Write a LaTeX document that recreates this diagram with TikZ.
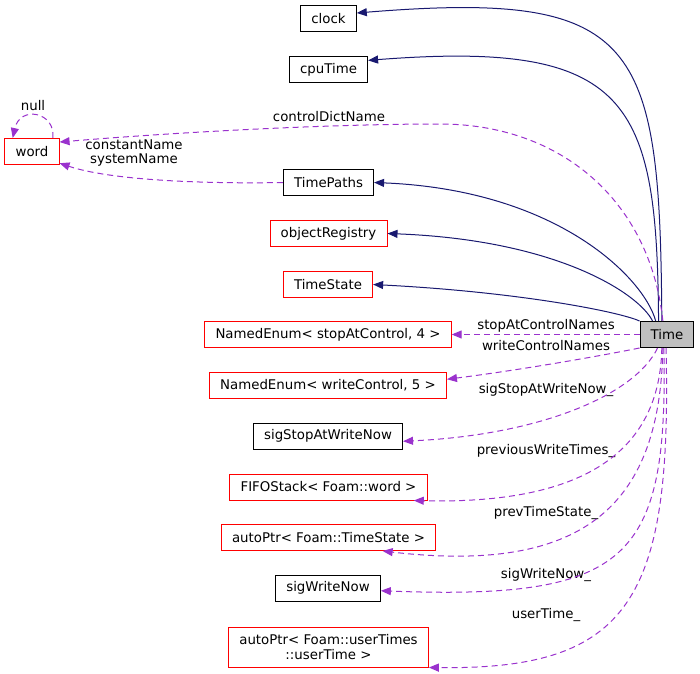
\documentclass[tikz,border=0pt]{standalone}
\usepackage{fontspec}
\setmainfont{DejaVu Sans}
\usepackage{tikz}
\usetikzlibrary{arrows.meta}
\usepackage{xcolor}

\definecolor{inheritblue}{HTML}{191970}
\definecolor{memberpurple}{HTML}{9A32CD}
\definecolor{mainfill}{HTML}{BFBFBF}

\begin{document}
\begin{tikzpicture}[x=0.75pt, y=-0.75pt,
    every node/.style={font=\fontsize{10}{11}\selectfont},
    box/.style={draw=black, line width=0.75pt, fill=white, inner xsep=8pt, inner ysep=3pt, minimum height=19.5pt},
    redbox/.style={box, draw=red},
    lbl/.style={inner sep=1pt},
    inherit/.style={draw=inheritblue, line width=0.75pt, -{Triangle[length=7.5pt,width=6pt]}},
    member/.style={draw=memberpurple, line width=0.75pt, dash pattern=on 4.5pt off 3pt, -{Triangle[length=7.5pt,width=6pt]}}]
    \useasboundingbox (0,0) rectangle (700,674);

    % Boxes
    \node[box] (clock) at (328.5,18.5) {clock};
    \node[box] (cpuTime) at (328.5,69.5) {cpuTime};
    \node[redbox] (word) at (32,151.5) {word};
    \node[box] (TimePaths) at (328.5,182.5) {TimePaths};
    \node[redbox] (objectRegistry) at (328.5,233.5) {objectRegistry};
    \node[redbox] (TimeState) at (328,284.5) {TimeState};
    \node[box, fill=mainfill] (Time) at (667,334.5) {Time};
    \node[redbox] (stopAtEnum) at (328,334.5) {NamedEnum< stopAtControl, 4 >};
    \node[redbox] (writeEnum) at (328,385.5) {NamedEnum< writeControl, 5 >};
    \node[box] (sigStopAtWriteNow) at (328,436) {sigStopAtWriteNow};
    \node[redbox] (fifoStack) at (328.5,487) {FIFOStack< Foam::word >};
    \node[redbox] (timeStatePtr) at (328.5,537.5) {autoPtr< Foam::TimeState >};
    \node[box] (sigWriteNow) at (328,588) {sigWriteNow};
    \node[redbox, align=center, minimum height=30pt] (userTimePtr) at (328.5,647) {autoPtr< Foam::userTimes\\::userTime >};

    % Labels
    \node[lbl] (lnull) at (33,106) {null};
    \node[lbl] (lcontrolDict) at (329,117) {controlDictName};
    \node[lbl, align=center] (lconstant) at (134,153) {constantName\\systemName};
    \node[lbl] (lstopAt) at (546,326) {stopAtControlNames};
    \node[lbl] (lwrite) at (546,346) {writeControlNames};
    \node[lbl] (lsigStop) at (546,390) {sigStopAtWriteNow\_};
    \node[lbl] (lprevWrite) at (546,451) {previousWriteTimes\_};
    \node[lbl] (lprevState) at (546,513) {prevTimeState\_};
    \node[lbl] (lsigWrite) at (546,575) {sigWriteNow\_};
    \node[lbl] (luserTime) at (546,615) {userTime\_};

    % Inheritance arrows
    \draw[inherit] (Time.111) .. controls (660,40) and (640,-10) .. (clock.11);
    \draw[inherit] (Time.122) .. controls (657,100) and (630,40) .. (cpuTime.13);
    \draw[inherit] (Time.130) .. controls (645,280) and (560,190) .. (TimePaths.east);
    \draw[inherit] (Time.137) .. controls (640,295) and (560,240) .. (objectRegistry.east);
    \draw[inherit] (Time.north west) .. controls (620,312) and (520,292) .. (TimeState.east);

    % Member arrows
    \draw[member] (word.33) .. controls (56,112) and (20,105) .. (word.145);
    \draw[member] (Time.107) .. controls (650,200) and (560,124) .. (440,124) .. controls (330,124) and (180,132) .. (word.19);
    \draw[member] (TimePaths.west) .. controls (200,184) and (110,180) .. (word.-23);
    \draw[member] (Time.west) -- (stopAtEnum.east);
    \draw[member] (Time.south west) .. controls (600,356) and (520,370) .. (writeEnum.3);
    \draw[member] (Time.235) .. controls (635,395) and (540,435) .. (sigStopAtWriteNow.-4);
    \draw[member] (Time.249) .. controls (660,440) and (600,505) .. (fifoStack.-9);
    \draw[member] (Time.253) .. controls (660,500) and (590,575) .. (timeStatePtr.-14);
    \draw[member] (Time.257) .. controls (668,560) and (630,600) .. (sigWriteNow.-3);
    \draw[member] (Time.266) .. controls (672,600) and (630,670) .. (userTimePtr.south east);
\end{tikzpicture}
\end{document}
